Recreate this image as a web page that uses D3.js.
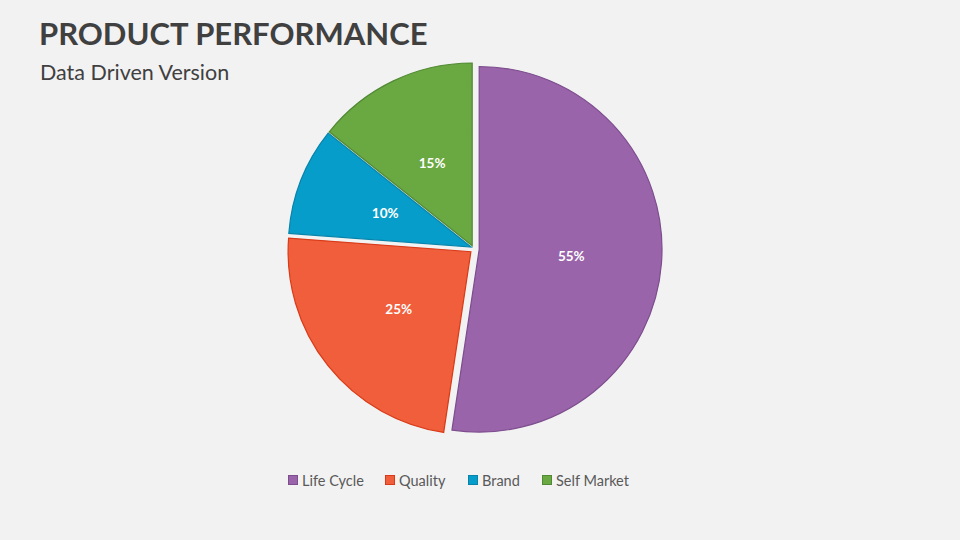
<!DOCTYPE html>
<html>
<head>
<meta charset="utf-8">
<script src="https://cdn.jsdelivr.net/npm/d3@7"></script>
<style>
  html, body { margin: 0; padding: 0; background: #f2f2f2; }
  svg { display: block; }
</style>
</head>
<body>
<svg id="chart" width="960" height="540"></svg>
<script>
// ---- data ----
const categories = ["Life Cycle", "Quality", "Brand", "Self Market"];
const values = [55, 25, 10, 15];
const labelSuffix = "%";

// ---- style ----
const fills   = ["#9964a9", "#f15e3c", "#079dca", "#6aa842"];
const strokes = ["#7d4d8e", "#d93a17", "#0784ab", "#528a34"];

const W = 960, H = 540;
const svg = d3.select("#chart");
svg.append("rect").attr("width", W).attr("height", H).attr("fill", "#f2f2f2");

// Title
svg.append("text")
  .attr("x", 39).attr("y", 45)
  .attr("font-family", "Lato, 'Open Sans', sans-serif")
  .attr("font-weight", 700)
  .attr("font-size", 31)
  .attr("fill", "#404040")
  .text("PRODUCT PERFORMANCE");

svg.append("text")
  .attr("x", 40).attr("y", 80)
  .attr("font-family", "Lato, 'Open Sans', sans-serif")
  .attr("font-size", 21.5)
  .attr("fill", "#404040")
  .text("Data Driven Version");

// Pie
const cx = 471.7, cy = 246.5, R = 182.8;
// explosion offsets per slice (layout)
const explode = [[7.5, 2.8], [-0.8, 5.2], [-0.6, 0.5], [0.5, -0.7]];

const pie = d3.pie().sort(null).value(d => d.value);
const arc = d3.arc().innerRadius(0).outerRadius(R);
const data = categories.map((c, i) => ({ name: c, value: values[i], i }));
const arcs = pie(data);

const g = svg.append("g").attr("transform", `translate(${cx},${cy})`);

const slices = g.selectAll("g.slice").data(arcs).enter().append("g")
  .attr("class", "slice")
  .attr("transform", d => `translate(${explode[d.index][0]},${explode[d.index][1]})`);

slices.append("path")
  .attr("d", arc)
  .attr("fill", d => fills[d.index])
  .attr("stroke", d => strokes[d.index])
  .attr("stroke-width", 1.2)
  .attr("stroke-linejoin", "miter");

slices.append("text")
  .attr("transform", d => {
    const [x, y] = arc.centroid(d);
    return `translate(${x * 1.01},${y * 1.01})`;
  })
  .attr("text-anchor", "middle")
  .attr("dominant-baseline", "central")
  .attr("font-family", "Lato, 'Open Sans', sans-serif")
  .attr("font-weight", 700)
  .attr("font-size", 13.5)
  .attr("fill", "#ffffff")
  .text(d => d.data.value + labelSuffix);

// Legend
const legendY = 480;
const legendFont = "Lato, 'Open Sans', sans-serif";
const legend = svg.append("g");
const itemX = [288, 385, 468, 542];
categories.forEach((c, i) => {
  const lg = legend.append("g").attr("transform", `translate(${itemX[i]},${legendY})`);
  lg.append("rect")
    .attr("x", 0.5).attr("y", -4.5)
    .attr("width", 9).attr("height", 9)
    .attr("fill", fills[i])
    .attr("stroke", strokes[i])
    .attr("stroke-width", 1);
  lg.append("text")
    .attr("x", 14).attr("y", 0)
    .attr("dominant-baseline", "central")
    .attr("font-family", legendFont)
    .attr("font-size", 14.5)
    .attr("fill", "#595959")
    .text(c);
});
</script>
</body>
</html>
